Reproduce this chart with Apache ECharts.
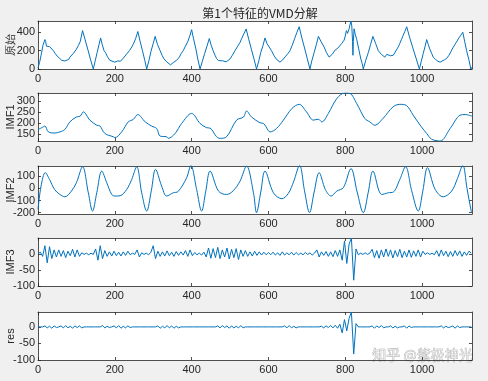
<!DOCTYPE html>
<html><head><meta charset="utf-8">
<script src="https://cdn.jsdelivr.net/npm/echarts@6/dist/echarts.min.js"></script>
<style>html,body{margin:0;padding:0;background:#f0f0f0}#c{width:488px;height:381px}</style>
</head><body><div id="c"></div>
<script>
const titleText = '第1个特征的VMD分解';
const panelNames = ['原始', 'IMF1', 'IMF2', 'IMF3', 'res'];
const xTicks = [0, 200, 400, 600, 800, 1000];
const xMax = 1130;
const yRanges = [[0, 525], [120, 336], [-211, 185], [-100, 49], [-100, 45]];
const yTicks = [[0, 200, 400], [150, 200, 250, 300], [-200, -100, 0, 100], [-100, -50, 0], [-100, -50, 0]];
const smoothing = [0, 0.35, 0.35, 0, 0];

const origPts = [[0,10],[4,70],[8,150],[13,260],[18,322],[20,300],[22,250],[26,262],[30,245],[35,230],[40,200],[45,168],[50,140],[56,118],[62,95],[66,75],[70,88],[75,80],[80,105],[83,130],[88,148],[92,170],[96,190],[100,217],[105,255],[110,300],[113,360],[116,420],[122,330],[130,210],[137,100],[144,0],[149,90],[154,180],[159,270],[163,340],[167,270],[172,200],[176,178],[180,140],[184,120],[187,95],[192,82],[200,75],[207,88],[215,85],[222,118],[231,165],[238,200],[244,240],[248,270],[254,330],[260,410],[266,300],[272,200],[278,95],[283,0],[289,95],[294,190],[300,280],[305,357],[311,270],[318,200],[323,150],[328,110],[332,90],[336,75],[341,62],[345,45],[352,70],[361,95],[368,130],[373,170],[378,200],[384,250],[390,300],[395,360],[400,430],[405,330],[411,220],[416,110],[422,0],[428,85],[434,170],[440,250],[446,333],[451,260],[456,200],[461,150],[465,115],[470,92],[474,75],[480,90],[485,85],[490,78],[495,80],[500,110],[506,150],[513,200],[520,250],[526,290],[530,330],[536,385],[542,438],[549,320],[556,210],[563,100],[569,0],[575,90],[580,180],[586,260],[591,340],[596,280],[602,240],[608,200],[614,150],[620,110],[625,90],[630,75],[637,100],[645,140],[651,170],[656,200],[662,260],[668,330],[674,400],[680,462],[687,340],[694,230],[701,115],[708,0],[713,90],[719,180],[725,270],[730,357],[737,300],[745,240],[751,180],[758,130],[762,145],[766,160],[770,185],[774,210],[780,225],[785,250],[788,240],[791,280],[794,290],[797,315],[800,360],[803,420],[806,390],[808,380],[810,440],[812,480],[814,500],[815,525],[817,470],[818,450],[819,300],[820,150],[821,300],[823,440],[826,380],[830,320],[835,220],[840,120],[844,60],[847,0],[853,90],[860,180],[866,270],[872,357],[879,280],[886,200],[894,160],[903,130],[908,160],[912,170],[918,145],[925,150],[930,185],[935,220],[939,250],[942,280],[946,320],[950,360],[955,410],[960,462],[968,340],[976,230],[985,110],[993,0],[998,85],[1003,170],[1008,250],[1012,322],[1016,270],[1020,220],[1025,170],[1029,130],[1035,105],[1041,85],[1047,75],[1052,90],[1058,100],[1064,115],[1070,150],[1075,190],[1080,230],[1086,270],[1091,305],[1096,340],[1101,370],[1106,402],[1111,300],[1116,200],[1122,100],[1127,0],[1130,20]];

const imf1Pts = [[0,172],[10,180],[18,187],[27,161],[44,156],[57,161],[70,172],[83,206],[100,228],[110,232],[118,251],[135,214],[153,191],[161,188],[174,154],[196,139],[200,135],[218,161],[235,206],[248,217],[260,239],[279,206],[296,187],[309,176],[318,142],[335,139],[339,132],[357,154],[374,199],[400,244],[422,199],[439,180],[448,178],[465,139],[474,132],[491,139],[517,214],[535,228],[543,255],[556,228],[578,202],[587,199],[600,166],[604,161],[621,176],[639,214],[661,266],[680,285],[699,251],[717,214],[730,218],[739,206],[756,244],[778,311],[799,336],[812,334],[830,288],[851,221],[864,206],[877,191],[898,221],[924,273],[942,285],[959,280],[977,236],[998,184],[1012,154],[1025,128],[1047,120],[1073,176],[1099,236],[1112,239],[1130,232]];

const imf2Pts = [[0,-173],[8,19],[19,130],[30,74],[43,-8],[57,-50],[70,-69],[87,-22],[100,47],[116,179],[131,-36],[142,-187],[153,-36],[166,143],[179,47],[192,-50],[200,-63],[214,-60],[231,-8],[244,74],[257,179],[270,-36],[283,-187],[295,-20],[306,157],[322,19],[335,-63],[352,-36],[365,-25],[387,88],[398,190],[413,-8],[426,-187],[437,-20],[448,143],[470,-22],[491,-50],[508,-20],[526,60],[543,184],[561,-36],[569,-200],[580,-30],[591,143],[613,-36],[635,-85],[652,-40],[666,60],[681,190],[694,-20],[707,-200],[719,-30],[732,130],[748,-8],[763,-63],[778,-22],[795,6],[815,163],[831,-30],[847,-200],[860,-30],[872,143],[895,-50],[912,-36],[925,-30],[942,74],[957,179],[973,-20],[990,-187],[1002,-20],[1014,171],[1034,-8],[1055,-69],[1077,-22],[1092,80],[1106,190],[1117,0],[1128,-187],[1130,-200]];

// IMF3 and res: one value every 6 samples
const stepX = 6;
const imf3Vals = [0,5,-8,25,-28,22,-15,12,-10,12,-8,10,-12,8,-6,14,-10,12,-8,3,-2,2,-3,2,-2,15,-20,25,-15,10,-8,6,-7,8,-6,5,-7,6,-5,8,-3,2,-2,12,-10,3,-2,2,-3,5,25,-15,8,-8,6,-7,9,-6,5,-8,7,-5,6,-4,10,-8,12,-6,4,-3,2,-4,5,-10,18,-14,16,-12,20,-15,12,-10,18,-16,14,-12,16,-18,12,-8,10,-8,6,-7,8,-5,6,-4,5,-3,4,-3,5,-4,3,-5,6,-4,3,-3,5,-4,4,-3,2,-3,4,-2,3,-4,2,12,-10,6,-5,7,-8,6,-9,10,-8,12,-20,40,-30,30,49,-82,15,-3,2,-2,3,-2,2,14,-12,10,-14,12,-10,15,-8,12,-13,10,-9,14,-12,8,-10,12,-11,9,-8,12,-10,8,-2,3,-2,2,-3,10,-8,12,-6,8,-9,7,-8,10,-6,9,-8,6,-5,8,2];
const resVals = [0,0,0,3,-3,2,-4,3,-2,0,3,-3,4,-3,2,-4,3,-2,3,-3,0,0,0,0,0,0,0,0,4,-3,2,-2,0,3,-3,4,-4,2,-3,3,-2,0,0,0,0,0,0,0,0,0,0,0,3,-4,2,-3,4,-3,3,-4,2,-3,0,0,0,0,0,0,0,0,0,0,0,0,0,0,0,0,3,-3,4,-2,3,-4,3,-3,2,-3,4,-3,0,0,0,0,0,0,0,0,0,0,0,0,0,0,0,0,0,3,-3,4,-3,2,-3,0,0,0,0,0,0,0,0,0,0,2,-3,3,-2,4,-3,5,-4,8,-18,22,-12,26,45,-82,10,0,0,0,0,0,0,3,-4,3,-2,4,-3,0,0,3,-3,2,-3,0,0,3,-4,3,-2,0,0,0,0,0,0,0,0,0,0,0,0,3,-3,2,-2,0,3,-4,3,-2,0,0,0,0,0];

const toPairs = vals => vals.map((v, i) => [i * stepX, v]);
const panelData = [origPts, imf1Pts, imf2Pts, toPairs(imf3Vals), toPairs(resVals)];

const tops = [21, 93, 166, 238, 312];
const H = 48;
const fontFam = '"Liberation Sans", Arial, sans-serif';
const axColor = '#262626';
const lineColor = '#0072BD';

const grid = [], xAxis = [], yAxis = [], series = [];
panelData.forEach((d, i) => {
  grid.push({left: 38, right: 16, top: tops[i], height: H, show: true, backgroundColor: '#ffffff',
    borderWidth: 0, containLabel: false, outerBoundsMode: 'none'});
  const tick = {show: true, inside: true, length: 3, lineStyle: {color: axColor, width: 0.8}};
  const aLine = {show: true, onZero: false, lineStyle: {color: axColor, width: 0.8}};
  xAxis.push({gridIndex: i, type: 'value', position: 'bottom', min: 0, max: xMax,
    axisLine: aLine, splitLine: {show: false},
    axisTick: Object.assign({customValues: xTicks}, tick),
    axisLabel: {customValues: xTicks, formatter: v => String(v), color: axColor, fontSize: 11, fontFamily: fontFam, margin: 4}});
  xAxis.push({gridIndex: i, type: 'value', position: 'top', min: 0, max: xMax,
    axisLine: aLine, splitLine: {show: false},
    axisTick: Object.assign({customValues: xTicks}, tick), axisLabel: {show: false}});
  yAxis.push({gridIndex: i, type: 'value', position: 'left', min: yRanges[i][0], max: yRanges[i][1],
    name: panelNames[i], nameLocation: 'middle', nameGap: 22, nameMoveOverlap: false,
    nameTextStyle: {color: axColor, fontSize: 11, fontFamily: fontFam},
    axisLine: aLine, splitLine: {show: false},
    axisTick: Object.assign({customValues: yTicks[i]}, tick),
    axisLabel: {customValues: yTicks[i], formatter: v => String(v), color: axColor, fontSize: 11, fontFamily: fontFam, margin: 3}});
  yAxis.push({gridIndex: i, type: 'value', position: 'right', min: yRanges[i][0], max: yRanges[i][1],
    axisLine: aLine, splitLine: {show: false},
    axisTick: Object.assign({customValues: yTicks[i]}, tick), axisLabel: {show: false}});
  series.push({type: 'line', xAxisIndex: 2 * i, yAxisIndex: 2 * i, data: d, showSymbol: false,
    symbol: 'none', clip: true, smooth: smoothing[i], lineStyle: {color: lineColor, width: 1}, silent: true});
});

const chart = echarts.init(document.getElementById('c'), null, {renderer: 'canvas'});
chart.setOption({
  backgroundColor: '#f0f0f0',
  animation: false,
  title: {text: titleText, left: 255, top: 2, textAlign: 'center',
    textStyle: {fontSize: 12, fontWeight: 'normal', color: axColor, fontFamily: '"Noto Sans CJK SC", ' + fontFam}},
  grid, xAxis, yAxis, series,
  graphic: [{type: 'text', left: 372, top: 347, silent: true,
    style: {text: '知乎 @紫极神光', fontSize: 14, fontFamily: '"Noto Sans CJK SC", sans-serif',
      fill: 'rgba(235,235,235,0.85)', stroke: 'rgba(120,120,120,0.7)', lineWidth: 0.6}}]
});
</script>
</body></html>
